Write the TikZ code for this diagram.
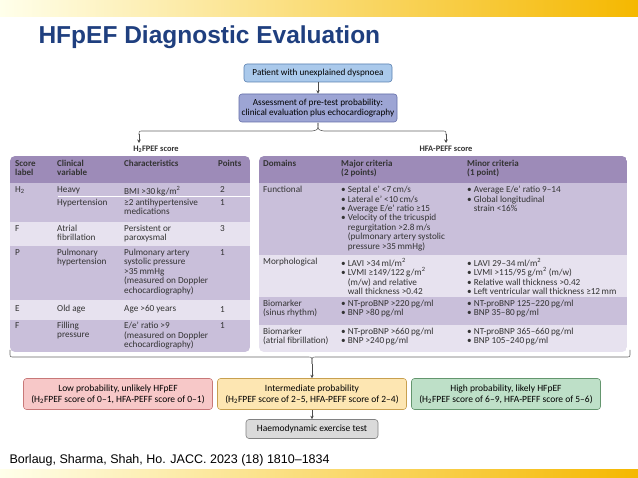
\documentclass[tikz,border=0pt]{standalone}
\usepackage{fontspec}
\setmainfont{Carlito}
\newfontfamily\arialf[Ligatures=TeX]{Liberation Sans}
\usetikzlibrary{arrows.meta}
\definecolor{hdr}{HTML}{9D8BB8}
\definecolor{rowd}{HTML}{C9BFDA}
\definecolor{rowl}{HTML}{E7E2EF}
\definecolor{ttl}{HTML}{1F3F7F}
\begin{document}
\begin{tikzpicture}[x=1pt,y=-1pt,
  box/.style={draw, rounded corners=3, line width=0.6pt, align=center, font=\fontsize{9.2}{10}\selectfont, inner sep=2pt},
  bbox/.style={box, font=\fontsize{9.5}{11}\selectfont, inner sep=1pt},
  cell/.style={anchor=north west, align=left, inner sep=0pt, font=\fontsize{9.2}{9.4}\selectfont, text=black!80},
  hcell/.style={cell, font=\fontsize{9}{9.4}\selectfont\bfseries},
  arr/.style={-{Stealth[length=3.5pt,width=3.5pt]}, line width=0.6pt, draw=black!70},
  brace/.style={line width=0.6pt, draw=black!60}]
\useasboundingbox (0,0) rectangle (638,478);
\fill[white] (0,0) rectangle (638,478);
\shade[left color=yellow!8, right color={rgb,255:red,245;green,184;blue,0}] (0,0) rectangle (638,17);
\shade[left color=yellow!8, right color={rgb,255:red,245;green,184;blue,0}] (0,470) rectangle (638,478);
\node[anchor=west, font=\arialf\bfseries\fontsize{24.5}{28}\selectfont, text=ttl] (title) at (35,37) {HFpEF Diagnostic Evaluation};
\node[anchor=west, font=\arialf\fontsize{12.5}{14}\selectfont] (cite) at (6,460) {Borlaug, Sharma, Shah, Ho. JACC. 2023 (18) 1810–1834};

\node[box, fill={rgb,255:red,170;green,201;blue,235}, draw={rgb,255:red,90;green,128;blue,176}, minimum width=148pt, minimum height=18pt] (b1) at (318,73) {Patient with unexplained dyspnoea};
\node[box, fill={rgb,255:red,157;green,165;blue,212}, draw={rgb,255:red,100;green,110;blue,168}, minimum width=158pt, minimum height=28pt] (b2) at (318,108) {Assessment of pre-test probability:\\clinical evaluation plus echocardiography};
\draw[arr] (b1) -- (b2);

% upper brace
\coordinate (cu) at (318,123);
\coordinate (la) at (139,143);
\coordinate (ra) at (446,143);
\draw[brace] (cu) .. controls (318,130) .. (324,131) -- (442,131) .. controls (446,131) .. (446,135);
\draw[brace] (cu) .. controls (318,130) .. (312,131) -- (143,131) .. controls (139,131) .. (139,135);
\draw[arr] (139,134) -- (la);
\draw[arr] (446,134) -- (ra);
\node[font=\fontsize{8.4}{9}\selectfont\bfseries, text=black!80] (lh) at (156,149) {H\textsubscript{2}FPEF score};
\node[font=\fontsize{8.4}{9}\selectfont\bfseries, text=black!80] (rh) at (446,149) {HFA-PEFF score};

% left table
\begin{scope}
\clip[rounded corners=5] (10,156) rectangle (250,352);
\fill[hdr] (10,156) rectangle (250,183);
\fill[rowd] (10,183) rectangle (250,222);
\fill[rowl] (10,222) rectangle (250,246);
\fill[rowd] (10,246) rectangle (250,300);
\fill[rowl] (10,300) rectangle (250,320);
\fill[rowd] (10,320) rectangle (250,352);
\draw[white, line width=0.8pt] (58,196) -- (250,196);
\end{scope}
\node[hcell] (h1) at (15,160) {Score\\label};
\node[hcell] (h2) at (57,160) {Clinical\\variable};
\node[hcell] (h3) at (124,160) {Characteristics};
\node[hcell] (h4) at (218,160) {Points};
\node[cell] (a1) at (15,186) {H\textsubscript{2}};
\node[cell] (a2) at (57,186) {Heavy};
\node[cell] (a3) at (124,186) {BMI >30\,kg/m\textsuperscript{2}};
\node[cell] (a4) at (220,186) {2};
\node[cell] (b2a) at (57,199) {Hypertension};
\node[cell] (b3) at (124,199) {≥2 antihypertensive\\medications};
\node[cell] (b4) at (220,199) {1};
\node[cell] (c1) at (15,225) {F};
\node[cell] (c2) at (57,225) {Atrial\\fibrillation};
\node[cell] (c3) at (124,225) {Persistent or\\paroxysmal};
\node[cell] (c4) at (220,225) {3};
\node[cell] (d1) at (15,249) {P};
\node[cell] (d2) at (57,249) {Pulmonary\\hypertension};
\node[cell] (d3) at (124,249) {Pulmonary artery\\systolic pressure\\>35\,mmHg\\(measured on Doppler\\echocardiography)};
\node[cell] (d4) at (220,249) {1};
\node[cell] (e1) at (15,305) {E};
\node[cell] (e2) at (57,305) {Old age};
\node[cell] (e3) at (124,305) {Age >60 years};
\node[cell] (e4) at (220,306) {1};
\node[cell] (f1) at (15,322) {F};
\node[cell] (f2) at (57,322) {Filling\\pressure};
\node[cell] (f3) at (124,322) {E/e’ ratio >9\\(measured on Doppler\\echocardiography)};
\node[cell] (f4) at (220,322) {1};

% right table
\begin{scope}
\clip[rounded corners=5] (259,156) rectangle (627,352);
\fill[hdr] (259,156) rectangle (627,183);
\fill[rowd] (259,183) rectangle (627,255);
\fill[rowl] (259,255) rectangle (627,297);
\fill[rowd] (259,297) rectangle (627,325);
\fill[rowl] (259,325) rectangle (627,352);
\end{scope}
\node[hcell] (r1) at (263,160) {Domains};
\node[hcell] (r2) at (341,160) {Major criteria\\(2 points)};
\node[hcell] (r3) at (467,160) {Minor criteria\\(1 point)};
\node[cell] (s1) at (263,186) {Functional};
\node[cell] (s2) at (341,186) {• Septal e’ <7\,cm/s\\• Lateral e’ <10\,cm/s\\• Average E/e’ ratio ≥15\\• Velocity of the tricuspid\\\phantom{• }regurgitation >2.8\,m/s\\\phantom{• }(pulmonary artery systolic\\\phantom{• }pressure >35\,mmHg)};
\node[cell] (s3) at (467,186) {• Average E/e’ ratio 9–14\\• Global longitudinal\\\phantom{• }strain <16\%};
\node[cell] (t1) at (263,258) {Morphological};
\node[cell] (t2) at (341,258) {• LAVI >34\,ml/m\textsuperscript{2}\\• LVMI ≥149/122\,g/m\textsuperscript{2}\\\phantom{• }(m/w) and relative\\\phantom{• }wall thickness >0.42};
\node[cell] (t3) at (467,258) {• LAVI 29–34\,ml/m\textsuperscript{2}\\• LVMI >115/95\,g/m\textsuperscript{2} (m/w)\\• Relative wall thickness >0.42\\• Left ventricular wall thickness ≥12\,mm};
\node[cell] (u1) at (263,300) {Biomarker\\(sinus rhythm)};
\node[cell] (u2) at (341,300) {• NT-proBNP >220\,pg/ml\\• BNP >80\,pg/ml};
\node[cell] (u3) at (467,300) {• NT-proBNP 125–220\,pg/ml\\• BNP 35–80\,pg/ml};
\node[cell] (v1) at (263,328) {Biomarker\\(atrial fibrillation)};
\node[cell] (v2) at (341,328) {• NT-proBNP >660\,pg/ml\\• BNP >240\,pg/ml};
\node[cell] (v3) at (467,328) {• NT-proBNP 365–660\,pg/ml\\• BNP 105–240\,pg/ml};

% bottom boxes
\node[bbox, fill={rgb,255:red,247;green,200;blue,200}, draw={rgb,255:red,200;green,120;blue,120}, minimum width=189pt, minimum height=31pt] (lo) at (118,394) {Low probability, unlikely HFpEF\\(H\textsubscript{2}FPEF score of 0–1, HFA-PEFF score of 0–1)};
\node[bbox, fill={rgb,255:red,253;green,230;blue,178}, draw={rgb,255:red,200;green,160;blue,80}, minimum width=189pt, minimum height=31pt] (mid) at (312,394) {Intermediate probability\\(H\textsubscript{2}FPEF score of 2–5, HFA-PEFF score of 2–4)};
\node[bbox, fill={rgb,255:red,190;green,224;blue,200}, draw={rgb,255:red,100;green,150;blue,110}, minimum width=189pt, minimum height=31pt] (hi) at (506,394) {High probability, likely HFpEF\\(H\textsubscript{2}FPEF score of 6–9, HFA-PEFF score of 5–6)};
\node[bbox, fill={rgb,255:red,218;green,218;blue,218}, draw={rgb,255:red,130;green,130;blue,130}, minimum width=132pt, minimum height=19pt] (ht) at (312,429) {Haemodynamic exercise test};

% lower brace
\coordinate (bl) at (10,350);
\coordinate (br) at (630,350);
\coordinate (bc) at (312,364);
\draw[brace] (bl) -- (10,353) .. controls (10,357) .. (14,357) -- (308,357) .. controls (312,357) .. (bc);
\draw[brace] (br) -- (630,353) .. controls (630,357) .. (626,357) -- (316,357) .. controls (312,357) .. (bc);
\draw[arr] (bc) -- (mid.north);
\draw[arr] (mid.south) -- (ht.north);
\end{tikzpicture}
\end{document}
